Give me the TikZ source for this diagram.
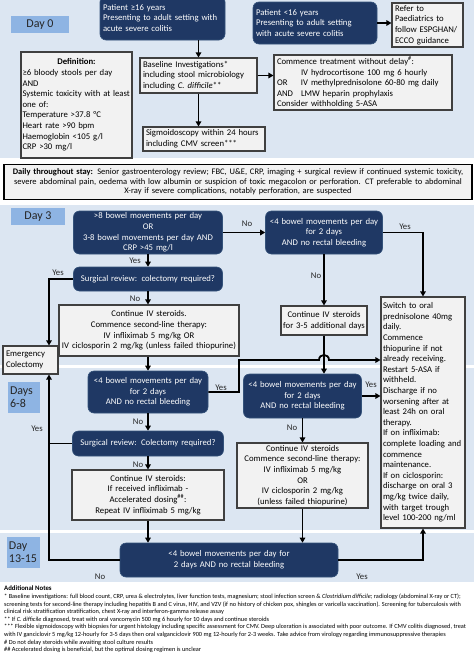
\documentclass[tikz,border=0pt]{standalone}
\usepackage{fontspec}
\setmainfont{Carlito}
\usetikzlibrary{arrows.meta,calc}
\definecolor{band}{RGB}{220,230,242}
\definecolor{lab}{RGB}{142,180,227}
\definecolor{navy}{RGB}{31,56,100}
\definecolor{navyb}{RGB}{52,82,122}
\definecolor{gbox}{RGB}{242,242,242}
\definecolor{gline}{RGB}{64,64,64}
\newcommand\tabx[1]{\makebox[24pt][l]{#1}}
\begin{document}
\begin{tikzpicture}[x=1pt,y=-1pt,
  every node/.style={inner xsep=3pt, inner ysep=1pt, font=\fontsize{8.7}{10.6}\selectfont},
  darkbox/.style={draw=navyb, fill=navy, text=white, rounded corners=6pt, line width=0.6pt},
  greybox/.style={draw=gline, fill=gbox, line width=1.1pt},
  daylab/.style={fill=lab, inner xsep=2pt, font=\fontsize{12}{13}\selectfont, text=black!85},
  conn/.style={line width=1.8pt, -{Triangle[length=5pt,width=5.5pt]}},
  plainline/.style={line width=1.8pt},
  yn/.style={inner sep=0pt, font=\fontsize{8.7}{10}\selectfont, text=black!85},
]
\useasboundingbox (0,0) rectangle (474,653);
\clip (0,0) rectangle (474,653);
% bands
\fill[band] (0,0) rectangle (474,158);
\fill[band] (0,205) rectangle (474,365);
\fill[band] (0,368) rectangle (474,530);
\fill[band] (0,533) rectangle (474,582);
% day labels
\node[daylab, minimum width=58pt, minimum height=17pt] (d0) at (40,24.5) {Day 0};
\node[daylab, minimum width=54pt, minimum height=17pt] (d3) at (38,216.5) {Day 3};
\node[daylab, minimum width=32pt, minimum height=31pt, text width=28pt, align=left] (d6) at (24,397.5) {Days\\6-8};
\node[daylab, minimum width=33pt, minimum height=31pt, text width=29pt, align=left] (d13) at (23.5,552.5) {Day\\13-15};
% Day 0
\node[darkbox, minimum width=125pt, minimum height=44pt, text width=119pt, align=left] (p16) at (162.5,18) {Patient ≥16 years\\Presenting to adult setting with\\acute severe colitis};
\node[darkbox, minimum width=124pt, minimum height=42pt, text width=118pt, align=left] (p15) at (315,23) {Patient <16 years\\Presenting to adult setting\\with acute severe colitis};
\node[greybox, minimum width=71pt, minimum height=44pt, text width=65pt, align=left] (refer) at (427.5,25) {Refer to\\Paediatrics to\\follow ESPGHAN/\\ECCO guidance};
\node[greybox, inner xsep=1.5pt, minimum width=111pt, minimum height=106pt, text width=108pt, align=left] (def) at (76.5,105) {\makebox[108pt]{\textbf{Definition:}}\\≥6 bloody stools per day\\AND\\Systemic toxicity with at least\\one of:\\Temperature >37.8 °C\\Heart rate >90 bpm\\Haemoglobin <105 g/l\\CRP >30 mg/l};
\node[greybox, minimum width=117pt, minimum height=35pt, text width=111pt, align=left] (base) at (198.5,75.5) {Baseline Investigations*\\including stool microbiology\\including \textit{C. difficile}**};
\node[greybox, minimum width=122pt, minimum height=24pt, text width=116pt, align=left] (sig) at (204,139) {Sigmoidoscopy within 24 hours\\including CMV screen***};
\node[greybox, minimum width=178pt, minimum height=55pt, text width=172pt, align=left] (comm) at (363,82.5) {Commence treatment without delay\textsuperscript{\#}:\\\tabx{}IV hydrocortisone 100 mg 6 hourly\\\tabx{OR}IV methylprednisolone 60-80 mg daily\\\tabx{AND}LMW heparin prophylaxis\\Consider withholding 5-ASA};
% daily
\node[draw=black, fill=gbox, line width=1.6pt, minimum width=468pt, minimum height=35pt, text width=464pt, inner xsep=2pt, align=center, font=\fontsize{8.5}{9.6}\selectfont] (daily) at (238,182) {\textbf{Daily throughout stay:} Senior gastroenterology review; FBC, U\&E, CRP, imaging + surgical review if continued systemic toxicity,\\severe abdominal pain, oedema with low albumin or suspicion of toxic megacolon or perforation. CT preferable to abdominal\\X-ray if severe complications, notably perforation, are suspected};
% Day 3
\node[darkbox, minimum width=149pt, minimum height=43pt, text width=143pt, align=center] (A) at (148,232.5) {>8 bowel movements per day\\OR\\3-8 bowel movements per day AND\\CRP >45 mg/l};
\node[darkbox, minimum width=117pt, minimum height=43pt, text width=111pt, align=center] (B) at (324,232.5) {<4 bowel movements per day\\for 2 days\\AND no rectal bleeding};
\node[darkbox, minimum width=149pt, minimum height=24pt, text width=143pt, align=center] (SR1) at (148,279) {Surgical review: colectomy required?};
\node[greybox, inner xsep=1pt, minimum width=180pt, minimum height=51pt, text width=178pt, align=center] (cont1) at (149,330.5) {Continue IV steroids.\\Commence second-line therapy:\\IV infliximab 5 mg/kg OR\\IV ciclosporin 2 mg/kg (unless failed thiopurine)};
\node[greybox, inner xsep=2pt, minimum width=86pt, minimum height=29pt, text width=82pt, align=center] (cont35) at (324,320.5) {Continue IV steroids\\for 3-5 additional days};
\node[greybox, minimum width=55pt, minimum height=28pt, text width=49pt, align=left] (emerg) at (30.5,360) {Emergency\\Colectomy};
\node[greybox, inner xsep=2pt, minimum width=84pt, minimum height=231pt, text width=80pt, align=left] (switch) at (423,412.5) {Switch to oral\\prednisolone 40mg\\daily.\\Commence\\thiopurine if not\\already receiving.\\Restart 5-ASA if\\withheld.\\Discharge if no\\worsening after at\\least 24h on oral\\therapy.\\If on infliximab:\\complete loading and\\commence\\maintenance.\\If on ciclosporin:\\discharge on oral 3\\mg/kg twice daily,\\with target trough\\level 100-200 ng/ml};
% Days 6-8
\node[darkbox, minimum width=120pt, minimum height=42pt, text width=114pt, align=center] (C) at (148,392) {<4 bowel movements per day\\for 2 days\\AND no rectal bleeding};
\node[darkbox, minimum width=118pt, minimum height=44pt, text width=112pt, align=center] (D) at (302.5,396) {<4 bowel movements per day\\for 2 days\\AND no rectal bleeding};
\node[darkbox, minimum width=151pt, minimum height=25pt, text width=145pt, align=center] (SR2) at (148,443.5) {Surgical review: Colectomy required?};
\node[greybox, minimum width=152pt, minimum height=50pt, text width=146pt, align=center] (cont2) at (148,495) {Continue IV steroids:\\If received infliximab -\\Accelerated dosing\textsuperscript{\#\#}:\\Repeat IV infliximab 5 mg/kg};
\node[greybox, minimum width=131pt, minimum height=65pt, text width=125pt, align=center] (cont3) at (302.5,475.5) {Continue IV steroids\\Commence second-line therapy:\\IV infliximab 5 mg/kg\\OR\\IV ciclosporin 2 mg/kg\\(unless failed thiopurine)};
% Day 13-15
\node[darkbox, minimum width=218pt, minimum height=34pt, text width=212pt, align=center] (E) at (229,560) {<4 bowel movements per day for\\2 days AND no rectal bleeding};
% helper coordinates
\coordinate (colx) at (49,0);
\coordinate (jx) at (239,0);
\coordinate (hy) at (0,360);
% connectors
\draw[conn] (base.north |- p16.south) -- (base.north);
\draw[conn] (base.south) -- (base.south |- sig.north);
\draw[conn] (base.east) -- (base.east -| comm.west);
\draw[conn] (p15.east) -- (p15.east -| refer.west);
\draw[conn] (A.east) -- (B.west);
\draw[conn] (B.east) -| (switch.north);
\draw[conn] (B.south) -- (cont35.north);
\draw[conn] (A.south) -- (SR1.north);
\draw[conn] (SR1.west) -| (colx |- emerg.north);
\draw[conn] (SR1.south) -- (SR1.south |- cont1.north);
\draw[conn] (C.north |- cont1.south) -- (C.north);
\draw[conn] (C.east) -- (jx |- C.east) -- (jx |- hy) -- ($(cont35.south |- hy)+(-5,0)$) .. controls +(0,-6.7) and +(0,-6.7) .. ($(cont35.south |- hy)+(5,0)$) -- (hy -| switch.west);
\draw[conn] (cont35.south) -- (cont35.south |- D.north);
\draw[conn] (D.east) -- (D.east -| switch.west);
\draw[conn] (D.south) -- (cont3.north);
\draw[conn] (C.south) -- (SR2.north);
\draw[plainline] (SR2.west) -- (colx |- SR2.west);
\draw[conn] (SR2.south) -- (cont2.north);
\draw[conn] (cont2.south) -- (cont2.south |- E.north);
\draw[conn] (cont3.south) -- (cont3.south |- E.north);
\draw[conn] (E.west) -| (colx |- emerg.south);
\draw[conn] (E.east) -| (switch.south);
% connector labels
\node[yn] (l1) at (247,224) {No};
\node[yn] (l2) at (405,227) {Yes};
\node[yn] (l3) at (316,276) {No};
\node[yn] (l4) at (135,261) {Yes};
\node[yn] (l5) at (58,273) {Yes};
\node[yn] (l6) at (135,299) {No};
\node[yn] (l7) at (221,388) {Yes};
\node[yn] (l8) at (138,422) {No};
\node[yn] (l9) at (37,429) {Yes};
\node[yn] (l10) at (138,465) {No};
\node[yn] (l11) at (371,385) {Yes};
\node[yn] (l12) at (292,428) {No};
\node[yn] (l13) at (100,577) {No};
\node[yn] (l14) at (362,577) {Yes};
% notes
\node[anchor=north west, inner sep=0pt, align=left, font=\fontsize{6.3}{7.6}\selectfont] (notes) at (4,586) {{\fontsize{6.8}{7.6}\selectfont\textbf{Additional Notes}}\\
* Baseline investigations: full blood count, CRP, urea \& electrolytes, liver function tests, magnesium; stool infection screen \& \textit{Clostridium difficile}; radiology (abdominal X-ray or CT);\\
screening tests for second-line therapy including hepatitis B and C virus, HIV, and VZV (if no history of chicken pox, shingles or varicella vaccination). Screening for tuberculosis with\\
clinical risk stratification stratification, chest X-ray and interferon-gamma release assay\\
** If \textit{C. difficile} diagnosed, treat with oral vancomycin 500 mg 6 hourly for 10 days and continue steroids\\
*** Flexible sigmoidoscopy with biopsies for urgent histology including specific assessment for CMV. Deep ulceration is associated with poor outcome. If CMV colitis diagnosed, treat\\
with IV ganciclovir 5 mg/kg 12-hourly for 3-5 days then oral valganciclovir 900 mg 12-hourly for 2-3 weeks. Take advice from virology regarding immunosuppressive therapies\\
\# Do not delay steroids while awaiting stool culture results\\
\#\# Accelerated dosing is beneficial, but the optimal dosing regimen is unclear};
\end{tikzpicture}
\end{document}
